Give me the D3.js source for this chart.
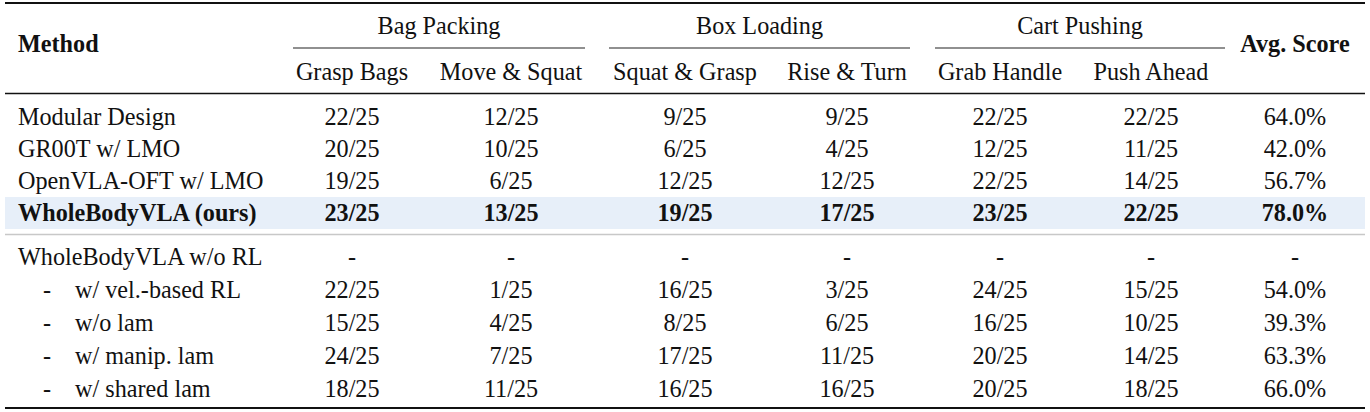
<!DOCTYPE html>
<html><head><meta charset="utf-8">
<script src="https://cdn.jsdelivr.net/npm/d3@7"></script>
<style>body{margin:0;background:#fff}svg{display:block}</style>
</head><body>
<script>
const groups = ["Bag Packing","Box Loading","Cart Pushing"];
const subtasks = ["Grasp Bags","Move & Squat","Squat & Grasp","Rise & Turn","Grab Handle","Push Ahead"];
const methods = ["Modular Design","GR00T w/ LMO","OpenVLA-OFT w/ LMO","WholeBodyVLA (ours)","WholeBodyVLA w/o RL","w/ vel.-based RL","w/o lam","w/ manip. lam","w/ shared lam"];
const isSub = [false,false,false,false,false,true,true,true,true];
const scores = [
  ["22/25","12/25","9/25","9/25","22/25","22/25"],
  ["20/25","10/25","6/25","4/25","12/25","11/25"],
  ["19/25","6/25","12/25","12/25","22/25","14/25"],
  ["23/25","13/25","19/25","17/25","23/25","22/25"],
  ["-","-","-","-","-","-"],
  ["22/25","1/25","16/25","3/25","24/25","15/25"],
  ["15/25","4/25","8/25","6/25","16/25","10/25"],
  ["24/25","7/25","17/25","11/25","20/25","14/25"],
  ["18/25","11/25","16/25","16/25","20/25","18/25"]
];
const avg = ["64.0%","42.0%","56.7%","78.0%","-","54.0%","39.3%","63.3%","66.0%"];
const bestRow = 3;

const W = 1370, H = 412;
const svg = d3.select("body").append("svg").attr("width",W).attr("height",H);
const font = "'Liberation Serif','Times New Roman',serif";
const fs = 24.2;

// column centers
const colKeys = [...subtasks, "avg"];
const x = d3.scaleOrdinal().domain(colKeys).range([352,511,685,847,1000,1151,1295]);
const groupSpan = [[293,585],[609,910],[935,1225]];
// row centers
const yRow = d3.scaleOrdinal().domain(d3.range(9)).range([116,148,180,212,256,289,322,355,388]);

// highlight
svg.append("rect").attr("x",5).attr("y",197).attr("width",1360).attr("height",32).attr("fill","#e7eff9");

// rules
const rule = (y,w,c,x1=5,x2=1365)=>svg.append("line").attr("x1",x1).attr("x2",x2).attr("y1",y).attr("y2",y).attr("stroke",c).attr("stroke-width",w);
rule(3,2.2,"#111");
rule(93.5,1.4,"#111");
rule(234.5,1.4,"#c8c8c8");
rule(408,2.2,"#111");
groupSpan.forEach(s=>rule(48,1.1,"#222",s[0],s[1]));

const txt = (t,xx,yy,anchor,bold)=>svg.append("text").attr("x",xx).attr("y",yy)
  .attr("text-anchor",anchor).attr("dominant-baseline","central")
  .attr("font-family",font).attr("font-size",fs).attr("font-weight",bold?"bold":"normal")
  .attr("fill","#111").text(t);

txt("Method",18,43,"start",true);
txt("Avg. Score",x("avg"),43,"middle",true);
groups.forEach((g,i)=>txt(g,(groupSpan[i][0]+groupSpan[i][1])/2,25,"middle",false));
subtasks.forEach(s=>txt(s,x(s),71,"middle",false));

methods.forEach((m,i)=>{
  const b = i===bestRow;
  const yy = yRow(i);
  if(isSub[i]){
    txt("-",43,yy,"start",false);
    txt(m,75,yy,"start",false);
  } else txt(m,18,yy,"start",b);
  scores[i].forEach((v,j)=>txt(v,x(subtasks[j]),yy,"middle",b));
  txt(avg[i],x("avg"),yy,"middle",b);
});
</script>
</body></html>
